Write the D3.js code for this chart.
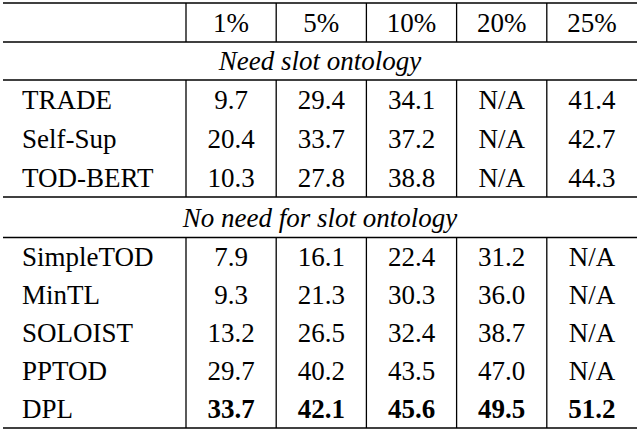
<!DOCTYPE html><html><head><script src="https://cdn.jsdelivr.net/npm/d3@7"></script>
<style>body{margin:0;background:#fff} text{font-family:"Liberation Serif","Times New Roman",Tinos,"DejaVu Serif",serif;}</style></head><body><svg id="c" width="641" height="432"></svg>
<script>
const columns=["1%","5%","10%","20%","25%"];
const group1Title="Need slot ontology";
const group1Models=["TRADE","Self-Sup","TOD-BERT"];
const group1Values=[["9.7","29.4","34.1","N/A","41.4"],["20.4","33.7","37.2","N/A","42.7"],["10.3","27.8","38.8","N/A","44.3"]];
const group2Title="No need for slot ontology";
const group2Models=["SimpleTOD","MinTL","SOLOIST","PPTOD","DPL"];
const group2Values=[["7.9","16.1","22.4","31.2","N/A"],["9.3","21.3","30.3","36.0","N/A"],["13.2","26.5","32.4","38.7","N/A"],["29.7","40.2","43.5","47.0","N/A"],["33.7","42.1","45.6","49.5","51.2"]];
const boldModel="DPL";
const svg=d3.select("#c"),fs=27;
const colX=d3.scaleBand().domain(columns).range([186,637]);
const L=3,R=637;
function hline(y){svg.append("line").attr("x1",L).attr("x2",R).attr("y1",y).attr("y2",y).attr("stroke","#000").attr("stroke-width",1.3);}
function vlines(y1,y2){[186,...columns.map(c=>colX(c)+colX.bandwidth())].slice(0,5).forEach(x=>svg.append("line").attr("x1",x).attr("x2",x).attr("y1",y1).attr("y2",y2).attr("stroke","#000").attr("stroke-width",1.3));}
function txt(x,y,t,anchor,opts={}){svg.append("text").attr("x",x).attr("y",y).attr("text-anchor",anchor).attr("font-size",fs).attr("font-style",opts.it?"italic":"normal").attr("font-weight",opts.b?"bold":"normal").attr("fill","#000").text(t);}
hline(3);vlines(3,42);
columns.forEach(c=>txt(colX(c)+colX.bandwidth()/2,32,c,"middle"));
hline(42);
txt((L+R)/2,70,group1Title,"middle",{it:1});
hline(80);
const y1=d3.scaleBand().domain(group1Models).range([80,197]);
vlines(80,197);
group1Models.forEach((m,i)=>{const cy=y1(m)+y1.bandwidth()/2+9;txt(22,cy,m,"start");group1Values[i].forEach((v,j)=>txt(colX(columns[j])+colX.bandwidth()/2,cy,v,"middle"));});
hline(197);
txt((L+R)/2,227,group2Title,"middle",{it:1});
hline(237.5);
const y2=d3.scaleBand().domain(group2Models).range([237.5,428]);
vlines(237.5,428);
group2Models.forEach((m,i)=>{const cy=y2(m)+y2.bandwidth()/2+9;const b=m===boldModel;txt(22,cy,m,"start");group2Values[i].forEach((v,j)=>txt(colX(columns[j])+colX.bandwidth()/2,cy,v,"middle",{b}));});
hline(428);
</script></body></html>
